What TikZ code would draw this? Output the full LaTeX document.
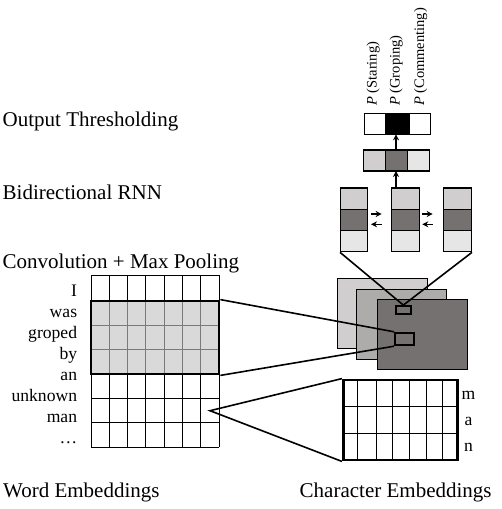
\documentclass[tikz,border=0pt]{standalone}
\usepackage{fontspec}
\setmainfont{Liberation Serif}
\usetikzlibrary{arrows.meta,fit}
\definecolor{lgray}{HTML}{D0CECE}
\definecolor{llgray}{HTML}{E6E6E6}
\definecolor{mgray}{HTML}{AEABAB}
\definecolor{dgray}{HTML}{767171}
\definecolor{hlgray}{HTML}{D9D9D9}
\definecolor{innergray}{HTML}{7A7A7A}
\begin{document}
\begin{tikzpicture}[x=1bp,y=-1bp,
  lab/.style={font=\fontsize{21bp}{25bp}\selectfont, inner sep=0, anchor=base west},
  word/.style={font=\fontsize{17.6bp}{20bp}\selectfont, inner sep=0, anchor=base east},
  charlab/.style={font=\fontsize{17.6bp}{20bp}\selectfont, inner sep=0, anchor=base},
  prob/.style={font=\fontsize{14.5bp}{16bp}\selectfont, inner sep=0, anchor=base west, rotate=90},
  gridline/.style={line width=0.9bp},
  box/.style={draw, line width=1.3bp, inner sep=0},
  cell/.style={draw, line width=1.3bp},
  thickbox/.style={draw, line width=2.8bp, inner sep=0},
  smallbox/.style={draw, line width=1.8bp, inner sep=0},
  conn/.style={line width=1.6bp},
  arr/.style={line width=1.2bp, -{Stealth[length=6bp,width=6bp]}}]
\useasboundingbox (0,0) rectangle (502,509);

% ---------- labels ----------
\node[lab] (lOut) at (2.5,126.7) {Output Thresholding};
\node[lab] (lRnn) at (2.5,200) {Bidirectional RNN};
\node[lab] (lConv) at (2.5,268.3) {Convolution + Max Pooling};
\node[lab] (lWord) at (3,497) {Word Embeddings};
\node[lab] (lChar) at (299.5,497) {Character Embeddings};

% ---------- word grid ----------
\foreach \x in {91,109.3,127.6,145.9,164.1,182.4,200.7,219}
  \draw[gridline] (\x,275) -- (\x,447.3);
\foreach \y in {275,301,325.3,349.7,374,398.3,422.7,447.3}
  \draw[gridline] (91,\y) -- (219,\y);
\fill[hlgray] (91,301) rectangle (219,374);
\foreach \x in {109.3,127.6,145.9,164.1,182.4,200.7}
  \draw[gridline, innergray] (\x,301) -- (\x,374);
\foreach \y in {325.3,349.7}
  \draw[gridline, innergray] (91,\y) -- (219,\y);
\node[thickbox, fit={(91,301)(219,374)}] (hl) {};

\foreach \w [count=\i from 0] in {I,was,groped,by,an,unknown,man,…}
  \node[word] (w\i) at (77.3,{296+21*\i}) {\w};

% ---------- character grid ----------
\foreach \x in {357.3,376,392.7,409.3,426,442.7}
  \draw[gridline] (\x,380) -- (\x,460);
\foreach \y in {406,433}
  \draw[gridline] (343.3,\y) -- (457.3,\y);
\node[thickbox, fit={(343.3,380)(457.3,460)}] (cg) {};
\node[charlab] (cm) at (468.5,399.3) {m};
\node[charlab] (ca) at (468.5,425.7) {a};
\node[charlab] (cn) at (468.5,451.7) {n};

\coordinate (apex) at (210,410.7);
\draw[conn] (cg.north west) -- (apex) -- (cg.south west);

% ---------- feature maps ----------
\node[box, fill=lgray, fit={(337.3,278.3)(427.5,348.3)}] (fm1) {};
\node[box, fill=mgray, fit={(356.3,289.3)(446.7,359.3)}] (fm2) {};
\node[box, fill=dgray, fit={(377.3,299.3)(467.7,369.3)}] (fm3) {};
\node[smallbox, fit={(395.7,306)(411,313.7)}] (s1) {};
\node[smallbox, fit={(395,332.7)(414,345.3)}] (s2) {};

\draw[conn] (hl.north east) -- (s2.north west);
\draw[conn] (hl.south east) -- (s2.south west);

% ---------- RNN boxes ----------
\foreach \n/\a/\b in {L/340.7/367.3, M/391.5/419.5, R/443.3/471.3}{
  \filldraw[cell, fill=lgray] (\a,188) rectangle (\b,209.3);
  \filldraw[cell, fill=dgray] (\a,209.3) rectangle (\b,230.5);
  \filldraw[cell, fill=llgray] (\a,230.5) rectangle (\b,251.7);
  \node[box, fit={(\a,188)(\b,251.7)}] (rnn\n) {};
}
\draw[conn] (rnnL.south west) -- (s1.north);
\draw[conn] (rnnR.south east) -- (s1.north);

\coordinate (aLa) at (371,214);   \coordinate (aLb) at (381.7,214);
\coordinate (aLc) at (381.7,224.3); \coordinate (aLd) at (371,224.3);
\coordinate (aRa) at (422.3,214); \coordinate (aRb) at (432.7,214);
\coordinate (aRc) at (432.7,224.3); \coordinate (aRd) at (422.3,224.3);
\draw[arr] (aLa) -- (aLb);
\draw[arr] (aLc) -- (aLd);
\draw[arr] (aRa) -- (aRb);
\draw[arr] (aRc) -- (aRd);

% ---------- merged vector ----------
\filldraw[cell, fill=lgray] (363.3,150) rectangle (385.7,171);
\filldraw[cell, fill=dgray] (385.7,150) rectangle (407.7,171);
\filldraw[cell, fill=llgray] (407.7,150) rectangle (429.3,171);
\node[box, fit={(363.3,150)(429.3,171)}] (mv) {};

% ---------- output vector ----------
\filldraw[cell, fill=white] (364.3,113.3) rectangle (385.3,134.3);
\filldraw[cell, fill=black] (385.3,113.3) rectangle (409,134.3);
\filldraw[cell, fill=white] (409,113.3) rectangle (430.7,134.3);
\node[box, fit={(364.3,113.3)(430.7,134.3)}] (ov) {};

\coordinate (u1s) at (396,188);   \coordinate (u1e) at (396,171);
\coordinate (u2s) at (396,150);   \coordinate (u2e) at (396,134.3);
\draw[arr] (u1s) -- (u1e);
\draw[arr] (u2s) -- (u2e);

% ---------- probabilities ----------
\node[prob] (pS) at (376.5,106) {\textit{P} (Staring)};
\node[prob] (pG) at (399.5,106) {\textit{P} (Groping)};
\node[prob] (pC) at (424,106) {\textit{P} (Commenting)};
\end{tikzpicture}
\end{document}
